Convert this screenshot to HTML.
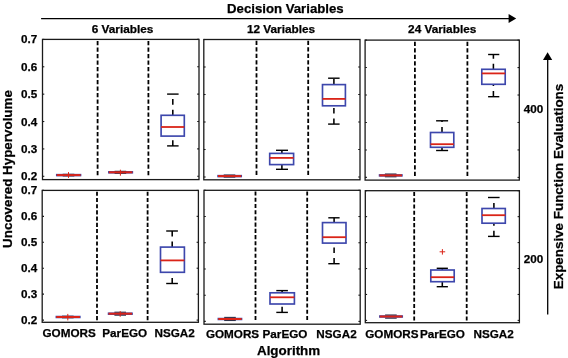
<!DOCTYPE html>
<html><head><meta charset="utf-8"><title>Boxplots</title>
<style>html,body{margin:0;padding:0;background:#fff;}svg{display:block;}</style>
</head><body>
<svg width="568" height="358" viewBox="0 0 568 358">
<rect x="0" y="0" width="568" height="358" fill="#ffffff"/>
<line x1="97.6" y1="40.9" x2="97.6" y2="175.50" stroke="#000" stroke-width="1.8" stroke-dasharray="4.3 2.20"/>
<line x1="148.4" y1="40.9" x2="148.4" y2="175.50" stroke="#000" stroke-width="1.8" stroke-dasharray="4.3 2.20"/>
<line x1="256.5" y1="40.7" x2="256.5" y2="176.20" stroke="#000" stroke-width="1.8" stroke-dasharray="4.3 2.20"/>
<line x1="308.2" y1="40.7" x2="308.2" y2="176.20" stroke="#000" stroke-width="1.8" stroke-dasharray="4.3 2.20"/>
<line x1="414.9" y1="41.7" x2="414.9" y2="176.60" stroke="#000" stroke-width="1.8" stroke-dasharray="4.3 2.20"/>
<line x1="467.4" y1="41.7" x2="467.4" y2="176.60" stroke="#000" stroke-width="1.8" stroke-dasharray="4.3 2.20"/>
<line x1="97.0" y1="191.7" x2="97.0" y2="320.50" stroke="#000" stroke-width="1.8" stroke-dasharray="4.1 2.12"/>
<line x1="147.6" y1="191.7" x2="147.6" y2="320.50" stroke="#000" stroke-width="1.8" stroke-dasharray="4.1 2.12"/>
<line x1="255.5" y1="191.5" x2="255.5" y2="321.80" stroke="#000" stroke-width="1.8" stroke-dasharray="4.1 2.12"/>
<line x1="307.2" y1="191.5" x2="307.2" y2="321.80" stroke="#000" stroke-width="1.8" stroke-dasharray="4.1 2.12"/>
<line x1="414.2" y1="192.0" x2="414.2" y2="320.80" stroke="#000" stroke-width="1.8" stroke-dasharray="4.1 2.12"/>
<line x1="466.7" y1="192.0" x2="466.7" y2="320.80" stroke="#000" stroke-width="1.8" stroke-dasharray="4.1 2.12"/>
<rect x="42.5" y="39.4" width="156.50" height="140.20" fill="none" stroke="#1a1a1a" stroke-width="1.3"/>
<line x1="42.5" y1="176.30" x2="44.3" y2="176.30" stroke="#1a1a1a" stroke-width="1.1"/>
<line x1="199.0" y1="176.30" x2="197.2" y2="176.30" stroke="#1a1a1a" stroke-width="1.1"/>
<line x1="42.5" y1="148.92" x2="44.3" y2="148.92" stroke="#1a1a1a" stroke-width="1.1"/>
<line x1="199.0" y1="148.92" x2="197.2" y2="148.92" stroke="#1a1a1a" stroke-width="1.1"/>
<line x1="42.5" y1="121.54" x2="44.3" y2="121.54" stroke="#1a1a1a" stroke-width="1.1"/>
<line x1="199.0" y1="121.54" x2="197.2" y2="121.54" stroke="#1a1a1a" stroke-width="1.1"/>
<line x1="42.5" y1="94.16" x2="44.3" y2="94.16" stroke="#1a1a1a" stroke-width="1.1"/>
<line x1="199.0" y1="94.16" x2="197.2" y2="94.16" stroke="#1a1a1a" stroke-width="1.1"/>
<line x1="42.5" y1="66.78" x2="44.3" y2="66.78" stroke="#1a1a1a" stroke-width="1.1"/>
<line x1="199.0" y1="66.78" x2="197.2" y2="66.78" stroke="#1a1a1a" stroke-width="1.1"/>
<line x1="42.5" y1="39.40" x2="44.3" y2="39.40" stroke="#1a1a1a" stroke-width="1.1"/>
<line x1="199.0" y1="39.40" x2="197.2" y2="39.40" stroke="#1a1a1a" stroke-width="1.1"/>
<rect x="203.8" y="39.5" width="156.20" height="140.30" fill="none" stroke="#1a1a1a" stroke-width="1.3"/>
<line x1="203.8" y1="177.00" x2="205.60000000000002" y2="177.00" stroke="#1a1a1a" stroke-width="1.1"/>
<line x1="360.0" y1="177.00" x2="358.2" y2="177.00" stroke="#1a1a1a" stroke-width="1.1"/>
<line x1="203.8" y1="149.50" x2="205.60000000000002" y2="149.50" stroke="#1a1a1a" stroke-width="1.1"/>
<line x1="360.0" y1="149.50" x2="358.2" y2="149.50" stroke="#1a1a1a" stroke-width="1.1"/>
<line x1="203.8" y1="122.00" x2="205.60000000000002" y2="122.00" stroke="#1a1a1a" stroke-width="1.1"/>
<line x1="360.0" y1="122.00" x2="358.2" y2="122.00" stroke="#1a1a1a" stroke-width="1.1"/>
<line x1="203.8" y1="94.50" x2="205.60000000000002" y2="94.50" stroke="#1a1a1a" stroke-width="1.1"/>
<line x1="360.0" y1="94.50" x2="358.2" y2="94.50" stroke="#1a1a1a" stroke-width="1.1"/>
<line x1="203.8" y1="67.00" x2="205.60000000000002" y2="67.00" stroke="#1a1a1a" stroke-width="1.1"/>
<line x1="360.0" y1="67.00" x2="358.2" y2="67.00" stroke="#1a1a1a" stroke-width="1.1"/>
<line x1="203.8" y1="39.50" x2="205.60000000000002" y2="39.50" stroke="#1a1a1a" stroke-width="1.1"/>
<line x1="360.0" y1="39.50" x2="358.2" y2="39.50" stroke="#1a1a1a" stroke-width="1.1"/>
<rect x="365.1" y="40.1" width="154.20" height="140.00" fill="none" stroke="#1a1a1a" stroke-width="1.3"/>
<line x1="365.1" y1="177.40" x2="366.90000000000003" y2="177.40" stroke="#1a1a1a" stroke-width="1.1"/>
<line x1="519.3" y1="177.40" x2="517.5" y2="177.40" stroke="#1a1a1a" stroke-width="1.1"/>
<line x1="365.1" y1="149.94" x2="366.90000000000003" y2="149.94" stroke="#1a1a1a" stroke-width="1.1"/>
<line x1="519.3" y1="149.94" x2="517.5" y2="149.94" stroke="#1a1a1a" stroke-width="1.1"/>
<line x1="365.1" y1="122.48" x2="366.90000000000003" y2="122.48" stroke="#1a1a1a" stroke-width="1.1"/>
<line x1="519.3" y1="122.48" x2="517.5" y2="122.48" stroke="#1a1a1a" stroke-width="1.1"/>
<line x1="365.1" y1="95.02" x2="366.90000000000003" y2="95.02" stroke="#1a1a1a" stroke-width="1.1"/>
<line x1="519.3" y1="95.02" x2="517.5" y2="95.02" stroke="#1a1a1a" stroke-width="1.1"/>
<line x1="365.1" y1="67.56" x2="366.90000000000003" y2="67.56" stroke="#1a1a1a" stroke-width="1.1"/>
<line x1="519.3" y1="67.56" x2="517.5" y2="67.56" stroke="#1a1a1a" stroke-width="1.1"/>
<line x1="365.1" y1="40.10" x2="366.90000000000003" y2="40.10" stroke="#1a1a1a" stroke-width="1.1"/>
<line x1="519.3" y1="40.10" x2="517.5" y2="40.10" stroke="#1a1a1a" stroke-width="1.1"/>
<rect x="42.2" y="190.4" width="156.20" height="131.90" fill="none" stroke="#1a1a1a" stroke-width="1.3"/>
<line x1="42.2" y1="320.10" x2="44.0" y2="320.10" stroke="#1a1a1a" stroke-width="1.1"/>
<line x1="198.4" y1="320.10" x2="196.6" y2="320.10" stroke="#1a1a1a" stroke-width="1.1"/>
<line x1="42.2" y1="294.16" x2="44.0" y2="294.16" stroke="#1a1a1a" stroke-width="1.1"/>
<line x1="198.4" y1="294.16" x2="196.6" y2="294.16" stroke="#1a1a1a" stroke-width="1.1"/>
<line x1="42.2" y1="268.22" x2="44.0" y2="268.22" stroke="#1a1a1a" stroke-width="1.1"/>
<line x1="198.4" y1="268.22" x2="196.6" y2="268.22" stroke="#1a1a1a" stroke-width="1.1"/>
<line x1="42.2" y1="242.28" x2="44.0" y2="242.28" stroke="#1a1a1a" stroke-width="1.1"/>
<line x1="198.4" y1="242.28" x2="196.6" y2="242.28" stroke="#1a1a1a" stroke-width="1.1"/>
<line x1="42.2" y1="216.34" x2="44.0" y2="216.34" stroke="#1a1a1a" stroke-width="1.1"/>
<line x1="198.4" y1="216.34" x2="196.6" y2="216.34" stroke="#1a1a1a" stroke-width="1.1"/>
<line x1="42.2" y1="190.40" x2="44.0" y2="190.40" stroke="#1a1a1a" stroke-width="1.1"/>
<line x1="198.4" y1="190.40" x2="196.6" y2="190.40" stroke="#1a1a1a" stroke-width="1.1"/>
<rect x="204.0" y="190.3" width="156.20" height="133.90" fill="none" stroke="#1a1a1a" stroke-width="1.3"/>
<line x1="204.0" y1="321.40" x2="205.8" y2="321.40" stroke="#1a1a1a" stroke-width="1.1"/>
<line x1="360.2" y1="321.40" x2="358.4" y2="321.40" stroke="#1a1a1a" stroke-width="1.1"/>
<line x1="204.0" y1="295.18" x2="205.8" y2="295.18" stroke="#1a1a1a" stroke-width="1.1"/>
<line x1="360.2" y1="295.18" x2="358.4" y2="295.18" stroke="#1a1a1a" stroke-width="1.1"/>
<line x1="204.0" y1="268.96" x2="205.8" y2="268.96" stroke="#1a1a1a" stroke-width="1.1"/>
<line x1="360.2" y1="268.96" x2="358.4" y2="268.96" stroke="#1a1a1a" stroke-width="1.1"/>
<line x1="204.0" y1="242.74" x2="205.8" y2="242.74" stroke="#1a1a1a" stroke-width="1.1"/>
<line x1="360.2" y1="242.74" x2="358.4" y2="242.74" stroke="#1a1a1a" stroke-width="1.1"/>
<line x1="204.0" y1="216.52" x2="205.8" y2="216.52" stroke="#1a1a1a" stroke-width="1.1"/>
<line x1="360.2" y1="216.52" x2="358.4" y2="216.52" stroke="#1a1a1a" stroke-width="1.1"/>
<line x1="204.0" y1="190.30" x2="205.8" y2="190.30" stroke="#1a1a1a" stroke-width="1.1"/>
<line x1="360.2" y1="190.30" x2="358.4" y2="190.30" stroke="#1a1a1a" stroke-width="1.1"/>
<rect x="365.3" y="190.7" width="154.10" height="132.00" fill="none" stroke="#1a1a1a" stroke-width="1.3"/>
<line x1="365.3" y1="320.40" x2="367.1" y2="320.40" stroke="#1a1a1a" stroke-width="1.1"/>
<line x1="519.4" y1="320.40" x2="517.6" y2="320.40" stroke="#1a1a1a" stroke-width="1.1"/>
<line x1="365.3" y1="294.46" x2="367.1" y2="294.46" stroke="#1a1a1a" stroke-width="1.1"/>
<line x1="519.4" y1="294.46" x2="517.6" y2="294.46" stroke="#1a1a1a" stroke-width="1.1"/>
<line x1="365.3" y1="268.52" x2="367.1" y2="268.52" stroke="#1a1a1a" stroke-width="1.1"/>
<line x1="519.4" y1="268.52" x2="517.6" y2="268.52" stroke="#1a1a1a" stroke-width="1.1"/>
<line x1="365.3" y1="242.58" x2="367.1" y2="242.58" stroke="#1a1a1a" stroke-width="1.1"/>
<line x1="519.4" y1="242.58" x2="517.6" y2="242.58" stroke="#1a1a1a" stroke-width="1.1"/>
<line x1="365.3" y1="216.64" x2="367.1" y2="216.64" stroke="#1a1a1a" stroke-width="1.1"/>
<line x1="519.4" y1="216.64" x2="517.6" y2="216.64" stroke="#1a1a1a" stroke-width="1.1"/>
<line x1="365.3" y1="190.70" x2="367.1" y2="190.70" stroke="#1a1a1a" stroke-width="1.1"/>
<line x1="519.4" y1="190.70" x2="517.6" y2="190.70" stroke="#1a1a1a" stroke-width="1.1"/>
<line x1="172.8" y1="115.3" x2="172.8" y2="94.1" stroke="#000" stroke-width="1.55" stroke-dasharray="5.6 5.0"/>
<line x1="172.8" y1="145.9" x2="172.8" y2="136.1" stroke="#000" stroke-width="1.55" stroke-dasharray="5.6 5.0"/>
<line x1="167.1" y1="94.1" x2="178.6" y2="94.1" stroke="#000" stroke-width="1.4"/>
<line x1="167.1" y1="145.9" x2="178.6" y2="145.9" stroke="#000" stroke-width="1.4"/>
<rect x="161.1" y="115.3" width="23.20" height="20.80" fill="none" stroke="#3d47ac" stroke-width="1.65"/>
<line x1="161.1" y1="127.0" x2="184.3" y2="127.0" stroke="#da2418" stroke-width="1.8"/>
<line x1="281.9" y1="153.4" x2="281.9" y2="150.3" stroke="#000" stroke-width="1.55" stroke-dasharray="5.6 5.0"/>
<line x1="281.9" y1="169.3" x2="281.9" y2="164.6" stroke="#000" stroke-width="1.55" stroke-dasharray="5.6 5.0"/>
<line x1="276.0" y1="150.3" x2="288.0" y2="150.3" stroke="#000" stroke-width="1.4"/>
<line x1="276.0" y1="169.3" x2="288.0" y2="169.3" stroke="#000" stroke-width="1.4"/>
<rect x="269.7" y="153.4" width="23.90" height="11.20" fill="none" stroke="#3d47ac" stroke-width="1.65"/>
<line x1="269.7" y1="157.9" x2="293.6" y2="157.9" stroke="#da2418" stroke-width="1.8"/>
<line x1="333.9" y1="84.6" x2="333.9" y2="78.2" stroke="#000" stroke-width="1.55" stroke-dasharray="5.6 5.0"/>
<line x1="333.9" y1="124.1" x2="333.9" y2="105.8" stroke="#000" stroke-width="1.55" stroke-dasharray="5.6 5.0"/>
<line x1="328.1" y1="78.2" x2="339.6" y2="78.2" stroke="#000" stroke-width="1.4"/>
<line x1="328.1" y1="124.1" x2="339.6" y2="124.1" stroke="#000" stroke-width="1.4"/>
<rect x="322.5" y="84.6" width="22.90" height="21.20" fill="none" stroke="#3d47ac" stroke-width="1.65"/>
<line x1="322.5" y1="98.9" x2="345.4" y2="98.9" stroke="#da2418" stroke-width="1.8"/>
<line x1="442.0" y1="132.5" x2="442.0" y2="120.8" stroke="#000" stroke-width="1.55" stroke-dasharray="5.6 5.0"/>
<line x1="442.0" y1="150.5" x2="442.0" y2="147.3" stroke="#000" stroke-width="1.55" stroke-dasharray="5.6 5.0"/>
<line x1="436.1" y1="120.8" x2="448.1" y2="120.8" stroke="#000" stroke-width="1.4"/>
<line x1="436.1" y1="150.5" x2="448.1" y2="150.5" stroke="#000" stroke-width="1.4"/>
<rect x="430.5" y="132.5" width="23.30" height="14.80" fill="none" stroke="#3d47ac" stroke-width="1.65"/>
<line x1="430.5" y1="144.2" x2="453.8" y2="144.2" stroke="#da2418" stroke-width="1.8"/>
<line x1="493.4" y1="69.3" x2="493.4" y2="54.5" stroke="#000" stroke-width="1.55" stroke-dasharray="5.6 5.0"/>
<line x1="493.4" y1="96.7" x2="493.4" y2="84.3" stroke="#000" stroke-width="1.55" stroke-dasharray="5.6 5.0"/>
<line x1="488.1" y1="54.5" x2="499.3" y2="54.5" stroke="#000" stroke-width="1.4"/>
<line x1="488.1" y1="96.7" x2="499.3" y2="96.7" stroke="#000" stroke-width="1.4"/>
<rect x="481.8" y="69.3" width="23.40" height="15.00" fill="none" stroke="#3d47ac" stroke-width="1.65"/>
<line x1="481.8" y1="73.4" x2="505.2" y2="73.4" stroke="#da2418" stroke-width="1.8"/>
<line x1="172.2" y1="247.1" x2="172.2" y2="231.0" stroke="#000" stroke-width="1.55" stroke-dasharray="5.6 5.0"/>
<line x1="172.2" y1="283.5" x2="172.2" y2="272.3" stroke="#000" stroke-width="1.55" stroke-dasharray="5.6 5.0"/>
<line x1="166.2" y1="231.0" x2="177.9" y2="231.0" stroke="#000" stroke-width="1.4"/>
<line x1="166.2" y1="283.5" x2="177.9" y2="283.5" stroke="#000" stroke-width="1.4"/>
<rect x="160.5" y="247.1" width="23.90" height="25.20" fill="none" stroke="#3d47ac" stroke-width="1.65"/>
<line x1="160.5" y1="260.4" x2="184.4" y2="260.4" stroke="#da2418" stroke-width="1.8"/>
<line x1="282.1" y1="292.8" x2="282.1" y2="290.6" stroke="#000" stroke-width="1.55" stroke-dasharray="5.6 5.0"/>
<line x1="282.1" y1="312.4" x2="282.1" y2="304.0" stroke="#000" stroke-width="1.55" stroke-dasharray="5.6 5.0"/>
<line x1="276.3" y1="290.6" x2="287.9" y2="290.6" stroke="#000" stroke-width="1.4"/>
<line x1="276.3" y1="312.4" x2="287.9" y2="312.4" stroke="#000" stroke-width="1.4"/>
<rect x="270.0" y="292.8" width="24.40" height="11.20" fill="none" stroke="#3d47ac" stroke-width="1.65"/>
<line x1="270.0" y1="297.3" x2="294.4" y2="297.3" stroke="#da2418" stroke-width="1.8"/>
<line x1="334.1" y1="222.6" x2="334.1" y2="217.8" stroke="#000" stroke-width="1.55" stroke-dasharray="5.6 5.0"/>
<line x1="334.1" y1="263.7" x2="334.1" y2="243.1" stroke="#000" stroke-width="1.55" stroke-dasharray="5.6 5.0"/>
<line x1="328.3" y1="217.8" x2="339.6" y2="217.8" stroke="#000" stroke-width="1.4"/>
<line x1="328.3" y1="263.7" x2="339.6" y2="263.7" stroke="#000" stroke-width="1.4"/>
<rect x="322.5" y="222.6" width="23.50" height="20.50" fill="none" stroke="#3d47ac" stroke-width="1.65"/>
<line x1="322.5" y1="237.2" x2="346.0" y2="237.2" stroke="#da2418" stroke-width="1.8"/>
<line x1="442.3" y1="270.0" x2="442.3" y2="268.3" stroke="#000" stroke-width="1.55" stroke-dasharray="5.6 5.0"/>
<line x1="442.3" y1="286.7" x2="442.3" y2="281.7" stroke="#000" stroke-width="1.55" stroke-dasharray="5.6 5.0"/>
<line x1="436.7" y1="268.3" x2="447.9" y2="268.3" stroke="#000" stroke-width="1.4"/>
<line x1="436.7" y1="286.7" x2="447.9" y2="286.7" stroke="#000" stroke-width="1.4"/>
<rect x="430.8" y="270.0" width="23.40" height="11.70" fill="none" stroke="#3d47ac" stroke-width="1.65"/>
<line x1="430.8" y1="277.2" x2="454.2" y2="277.2" stroke="#da2418" stroke-width="1.8"/>
<line x1="493.9" y1="208.5" x2="493.9" y2="197.5" stroke="#000" stroke-width="1.55" stroke-dasharray="5.6 5.0"/>
<line x1="493.9" y1="236.4" x2="493.9" y2="223.2" stroke="#000" stroke-width="1.55" stroke-dasharray="5.6 5.0"/>
<line x1="488.0" y1="197.5" x2="499.6" y2="197.5" stroke="#000" stroke-width="1.4"/>
<line x1="488.0" y1="236.4" x2="499.6" y2="236.4" stroke="#000" stroke-width="1.4"/>
<rect x="482.0" y="208.5" width="23.30" height="14.70" fill="none" stroke="#3d47ac" stroke-width="1.65"/>
<line x1="482.0" y1="215.2" x2="505.3" y2="215.2" stroke="#da2418" stroke-width="1.8"/>
<rect x="56.7" y="174.60" width="23.90" height="1.0" fill="none" stroke="#3d47ac" stroke-width="1.5"/>
<line x1="62.7" y1="174.3" x2="74.3" y2="174.3" stroke="#2e3048" stroke-width="1.1"/>
<line x1="62.7" y1="175.9" x2="74.3" y2="175.9" stroke="#2e3048" stroke-width="1.1"/>
<line x1="56.7" y1="175.1" x2="80.60000000000001" y2="175.1" stroke="#da2418" stroke-width="2.0"/>
<line x1="68.5" y1="172.1" x2="68.5" y2="177.9" stroke="#da2418" stroke-width="1.0"/>
<rect x="108.8" y="171.80" width="23.60" height="1.0" fill="none" stroke="#3d47ac" stroke-width="1.5"/>
<line x1="114.6" y1="171.3" x2="126.2" y2="171.3" stroke="#2e3048" stroke-width="1.1"/>
<line x1="114.6" y1="173.3" x2="126.2" y2="173.3" stroke="#2e3048" stroke-width="1.1"/>
<line x1="108.8" y1="172.3" x2="132.4" y2="172.3" stroke="#da2418" stroke-width="2.0"/>
<line x1="120.4" y1="169.7" x2="120.4" y2="175.7" stroke="#da2418" stroke-width="1.0"/>
<rect x="218.0" y="175.60" width="23.30" height="1.0" fill="none" stroke="#3d47ac" stroke-width="1.5"/>
<line x1="223.7" y1="175.0" x2="235.3" y2="175.0" stroke="#2e3048" stroke-width="1.1"/>
<line x1="223.7" y1="177.1" x2="235.3" y2="177.1" stroke="#2e3048" stroke-width="1.1"/>
<line x1="218.0" y1="176.1" x2="241.3" y2="176.1" stroke="#da2418" stroke-width="2.0"/>
<rect x="379.5" y="174.90" width="22.50" height="1.0" fill="none" stroke="#3d47ac" stroke-width="1.5"/>
<line x1="384.9" y1="174.0" x2="396.5" y2="174.0" stroke="#2e3048" stroke-width="1.1"/>
<line x1="384.9" y1="176.8" x2="396.5" y2="176.8" stroke="#2e3048" stroke-width="1.1"/>
<line x1="379.5" y1="175.4" x2="402.0" y2="175.4" stroke="#da2418" stroke-width="2.0"/>
<rect x="56.300000000000004" y="316.50" width="23.60" height="1.0" fill="none" stroke="#3d47ac" stroke-width="1.5"/>
<line x1="62.0" y1="316.2" x2="73.6" y2="316.2" stroke="#2e3048" stroke-width="1.1"/>
<line x1="62.0" y1="317.8" x2="73.6" y2="317.8" stroke="#2e3048" stroke-width="1.1"/>
<line x1="56.300000000000004" y1="317.0" x2="79.9" y2="317.0" stroke="#da2418" stroke-width="2.0"/>
<line x1="67.8" y1="313.9" x2="67.8" y2="320.4" stroke="#da2418" stroke-width="1.0"/>
<rect x="108.5" y="313.20" width="23.60" height="1.0" fill="none" stroke="#3d47ac" stroke-width="1.5"/>
<line x1="114.4" y1="312.2" x2="126.0" y2="312.2" stroke="#2e3048" stroke-width="1.1"/>
<line x1="114.4" y1="315.2" x2="126.0" y2="315.2" stroke="#2e3048" stroke-width="1.1"/>
<line x1="108.5" y1="313.7" x2="132.1" y2="313.7" stroke="#da2418" stroke-width="2.0"/>
<line x1="120.2" y1="311.1" x2="120.2" y2="316.8" stroke="#da2418" stroke-width="1.0"/>
<rect x="218.29999999999998" y="318.50" width="23.30" height="1.0" fill="none" stroke="#3d47ac" stroke-width="1.5"/>
<line x1="224.2" y1="317.4" x2="235.8" y2="317.4" stroke="#2e3048" stroke-width="1.1"/>
<line x1="224.2" y1="320.5" x2="235.8" y2="320.5" stroke="#2e3048" stroke-width="1.1"/>
<line x1="218.29999999999998" y1="319.0" x2="241.6" y2="319.0" stroke="#da2418" stroke-width="2.0"/>
<rect x="379.8" y="316.00" width="22.50" height="1.0" fill="none" stroke="#3d47ac" stroke-width="1.5"/>
<line x1="385.1" y1="315.0" x2="396.7" y2="315.0" stroke="#2e3048" stroke-width="1.1"/>
<line x1="385.1" y1="318.2" x2="396.7" y2="318.2" stroke="#2e3048" stroke-width="1.1"/>
<line x1="379.8" y1="316.5" x2="402.29999999999995" y2="316.5" stroke="#da2418" stroke-width="2.0"/>
<line x1="439.6" y1="251.8" x2="445.2" y2="251.8" stroke="#da2418" stroke-width="1"/>
<line x1="442.4" y1="249.1" x2="442.4" y2="254.6" stroke="#da2418" stroke-width="1"/>
<line x1="41.1" y1="18.6" x2="509" y2="18.6" stroke="#000" stroke-width="1.3"/>
<polygon points="508.6,14.1 516.2,18.6 508.6,23.1" fill="#000"/>
<line x1="547.7" y1="314.4" x2="547.7" y2="59" stroke="#000" stroke-width="1.3"/>
<polygon points="543.0,60.1 547.6,52.2 552.2,60.1" fill="#000"/>
<text x="227.1" y="12.5" font-family="'Liberation Sans', Arial, sans-serif" font-weight="bold" font-size="13.2" text-anchor="start" fill="#000" stroke="#000" stroke-width="0.25">Decision Variables</text>
<text x="122.5" y="32.7" font-family="'Liberation Sans', Arial, sans-serif" font-weight="bold" font-size="11.8" text-anchor="middle" fill="#000" stroke="#000" stroke-width="0.25">6 Variables</text>
<text x="281.0" y="32.7" font-family="'Liberation Sans', Arial, sans-serif" font-weight="bold" font-size="11.8" text-anchor="middle" fill="#000" stroke="#000" stroke-width="0.25">12 Variables</text>
<text x="442.2" y="32.7" font-family="'Liberation Sans', Arial, sans-serif" font-weight="bold" font-size="11.8" text-anchor="middle" fill="#000" stroke="#000" stroke-width="0.25">24 Variables</text>
<text x="37.3" y="180.30" font-family="'Liberation Sans', Arial, sans-serif" font-weight="bold" font-size="11.7" text-anchor="end" fill="#000" stroke="#000" stroke-width="0.25">0.2</text>
<text x="37.3" y="152.92" font-family="'Liberation Sans', Arial, sans-serif" font-weight="bold" font-size="11.7" text-anchor="end" fill="#000" stroke="#000" stroke-width="0.25">0.3</text>
<text x="37.3" y="125.54" font-family="'Liberation Sans', Arial, sans-serif" font-weight="bold" font-size="11.7" text-anchor="end" fill="#000" stroke="#000" stroke-width="0.25">0.4</text>
<text x="37.3" y="98.16" font-family="'Liberation Sans', Arial, sans-serif" font-weight="bold" font-size="11.7" text-anchor="end" fill="#000" stroke="#000" stroke-width="0.25">0.5</text>
<text x="37.3" y="70.78" font-family="'Liberation Sans', Arial, sans-serif" font-weight="bold" font-size="11.7" text-anchor="end" fill="#000" stroke="#000" stroke-width="0.25">0.6</text>
<text x="37.3" y="43.40" font-family="'Liberation Sans', Arial, sans-serif" font-weight="bold" font-size="11.7" text-anchor="end" fill="#000" stroke="#000" stroke-width="0.25">0.7</text>
<text x="37.3" y="324.10" font-family="'Liberation Sans', Arial, sans-serif" font-weight="bold" font-size="11.7" text-anchor="end" fill="#000" stroke="#000" stroke-width="0.25">0.2</text>
<text x="37.3" y="298.16" font-family="'Liberation Sans', Arial, sans-serif" font-weight="bold" font-size="11.7" text-anchor="end" fill="#000" stroke="#000" stroke-width="0.25">0.3</text>
<text x="37.3" y="272.22" font-family="'Liberation Sans', Arial, sans-serif" font-weight="bold" font-size="11.7" text-anchor="end" fill="#000" stroke="#000" stroke-width="0.25">0.4</text>
<text x="37.3" y="246.28" font-family="'Liberation Sans', Arial, sans-serif" font-weight="bold" font-size="11.7" text-anchor="end" fill="#000" stroke="#000" stroke-width="0.25">0.5</text>
<text x="37.3" y="220.34" font-family="'Liberation Sans', Arial, sans-serif" font-weight="bold" font-size="11.7" text-anchor="end" fill="#000" stroke="#000" stroke-width="0.25">0.6</text>
<text x="37.3" y="194.40" font-family="'Liberation Sans', Arial, sans-serif" font-weight="bold" font-size="11.7" text-anchor="end" fill="#000" stroke="#000" stroke-width="0.25">0.7</text>
<text x="533.5" y="112.8" font-family="'Liberation Sans', Arial, sans-serif" font-weight="bold" font-size="11.7" text-anchor="middle" fill="#000" stroke="#000" stroke-width="0.25">400</text>
<text x="533.5" y="262.6" font-family="'Liberation Sans', Arial, sans-serif" font-weight="bold" font-size="11.7" text-anchor="middle" fill="#000" stroke="#000" stroke-width="0.25">200</text>
<text x="69.1" y="336.6" font-family="'Liberation Sans', Arial, sans-serif" font-weight="bold" font-size="11.7" text-anchor="middle" fill="#000" stroke="#000" stroke-width="0.25">GOMORS</text>
<text x="124.7" y="336.6" font-family="'Liberation Sans', Arial, sans-serif" font-weight="bold" font-size="11.7" text-anchor="middle" fill="#000" stroke="#000" stroke-width="0.25">ParEGO</text>
<text x="174.6" y="336.6" font-family="'Liberation Sans', Arial, sans-serif" font-weight="bold" font-size="11.7" text-anchor="middle" fill="#000" stroke="#000" stroke-width="0.25">NSGA2</text>
<text x="232.5" y="337.6" font-family="'Liberation Sans', Arial, sans-serif" font-weight="bold" font-size="11.7" text-anchor="middle" fill="#000" stroke="#000" stroke-width="0.25">GOMORS</text>
<text x="285.0" y="337.6" font-family="'Liberation Sans', Arial, sans-serif" font-weight="bold" font-size="11.7" text-anchor="middle" fill="#000" stroke="#000" stroke-width="0.25">ParEGO</text>
<text x="336.5" y="337.6" font-family="'Liberation Sans', Arial, sans-serif" font-weight="bold" font-size="11.7" text-anchor="middle" fill="#000" stroke="#000" stroke-width="0.25">NSGA2</text>
<text x="391.9" y="337.9" font-family="'Liberation Sans', Arial, sans-serif" font-weight="bold" font-size="11.7" text-anchor="middle" fill="#000" stroke="#000" stroke-width="0.25">GOMORS</text>
<text x="442.5" y="337.9" font-family="'Liberation Sans', Arial, sans-serif" font-weight="bold" font-size="11.7" text-anchor="middle" fill="#000" stroke="#000" stroke-width="0.25">ParEGO</text>
<text x="493.7" y="337.9" font-family="'Liberation Sans', Arial, sans-serif" font-weight="bold" font-size="11.7" text-anchor="middle" fill="#000" stroke="#000" stroke-width="0.25">NSGA2</text>
<text x="288.6" y="354.6" font-family="'Liberation Sans', Arial, sans-serif" font-weight="bold" font-size="13.4" text-anchor="middle" fill="#000" stroke="#000" stroke-width="0.25">Algorithm</text>
<text transform="translate(11.6 169.0) rotate(-90)" font-family="'Liberation Sans', Arial, sans-serif" font-weight="bold" font-size="13.4" text-anchor="middle" fill="#000" stroke="#000" stroke-width="0.25">Uncovered Hypervolume</text>
<text transform="translate(563.0 186.5) rotate(-90)" font-family="'Liberation Sans', Arial, sans-serif" font-weight="bold" font-size="13.4" text-anchor="middle" fill="#000" stroke="#000" stroke-width="0.25">Expensive Function Evaluations</text>
</svg>
</body></html>
